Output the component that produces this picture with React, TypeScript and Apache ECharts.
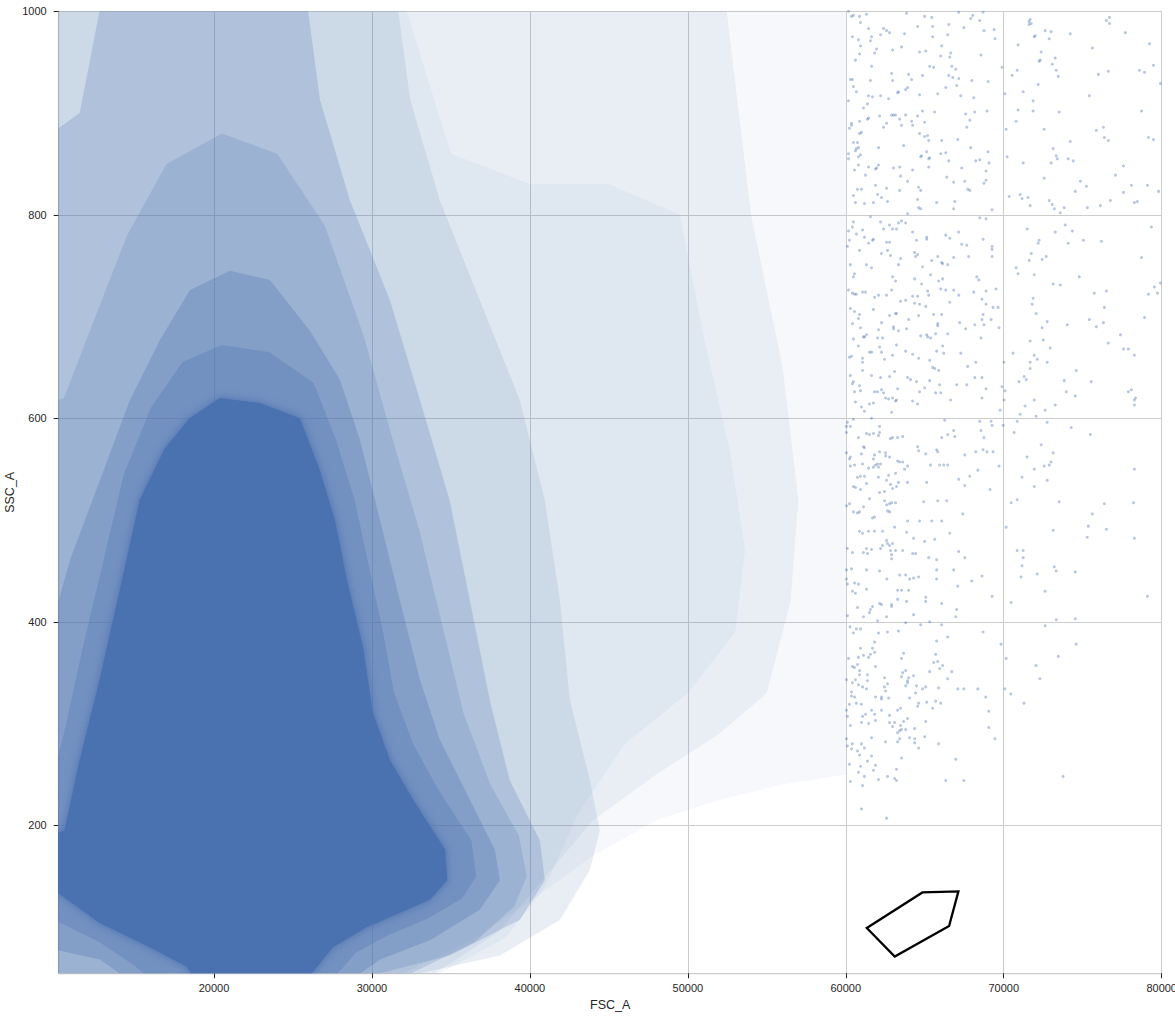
import React, { useEffect, useRef } from "react";
import * as echarts from "echarts";

// ---------- axes ----------
const X_MIN = 10170;
const X_MAX = 80000;
const Y_MIN = 54.5;
const Y_MAX = 1000;
const xTickValues = [20000, 30000, 40000, 50000, 60000, 70000, 80000];
const yTickValues = [200, 400, 600, 800, 1000];
const xAxisName = "FSC_A";
const yAxisName = "SSC_A";

// ---------- density envelopes of the dense population (FSC_A, SSC_A) ----------
// edge vertices run a little past the visible range; the plot clips them
const hazeOuter = [
  [7000, 20], [32000, 20], [32000, 54.5], [36000, 85], [40000, 125], [44000, 170], [48000, 205],
  [52000, 225], [56000, 240], [60000, 250], [60000, 1060], [7000, 1060],
];
const hazeWide = [
  [7000, 20], [34000, 20], [34000, 54.5], [38000, 95], [41000, 150], [44000, 205], [48000, 250],
  [52000, 290], [55000, 330], [56500, 420], [57000, 520], [56000, 650], [54000, 800],
  [52000, 1060], [7000, 1060],
];
const hazeBand = [
  [7000, 20], [34320, 20], [34320, 54.5], [38500, 90], [41000, 140], [43000, 210], [46000, 280],
  [50000, 330], [53000, 390], [53620, 470], [52660, 568], [51000, 680], [49500, 800],
  [45000, 830], [40000, 830], [35000, 860], [31000, 1060], [7000, 1060],
];
const hazeNear = [
  [7000, 20], [33040, 20], [33040, 54.5], [38100, 72], [41900, 107], [43800, 156], [44430, 195],
  [43800, 244], [42530, 323], [41900, 421], [40950, 519], [39360, 618], [36830, 716],
  [34300, 814], [32420, 913], [31150, 1060], [7000, 1060],
];
const haloOuter = [
  [7000, 20], [30510, 20], [30510, 54.5], [34930, 72], [39360, 107], [40950, 146], [40630, 185],
  [38730, 244], [37460, 323], [36200, 421], [34930, 519], [33040, 618], [31140, 716],
  [28610, 814], [26710, 913], [25440, 1060], [13500, 1060], [11500, 900], [7000, 850],
];
const haloMid = [
  [7000, 20], [32500, 20], [32500, 54.5], [36500, 85], [39000, 120], [39800, 150], [39300, 190],
  [37500, 240], [35800, 310], [34400, 400], [33000, 490], [31300, 580], [29500, 680],
  [27000, 790], [24000, 860], [20500, 880], [17000, 850], [14500, 780], [12500, 700],
  [10500, 620], [7000, 600],
];
const haloInner = [
  [7000, 80], [10170, 77], [12780, 68], [15320, 40], [27970, 40], [30510, 68], [33670, 87],
  [36830, 117], [38100, 146], [37780, 176], [36200, 225], [34300, 284], [33040, 343],
  [31770, 421], [30510, 500], [29240, 579], [27970, 638], [26070, 686], [23540, 736],
  [21010, 745], [18480, 726], [16580, 677], [14680, 618], [12780, 539], [10890, 461],
  [10170, 421], [7000, 400],
];
const coreRim = [
  [7000, 110], [10170, 105], [12760, 85], [15000, 62], [16500, 40], [27000, 40], [29000, 75],
  [31000, 92], [33500, 108], [35700, 128], [36600, 150], [36300, 185], [34200, 235],
  [32600, 280], [31400, 330], [30700, 390], [29800, 455], [28900, 520], [27700, 580],
  [26300, 635], [23500, 665], [20500, 672], [18000, 655], [16000, 610], [14300, 545],
  [13000, 460], [11700, 375], [10500, 290], [9500, 230], [7000, 220],
];
const coreCloud = [
  [7000, 150], [10170, 133], [12760, 104], [15930, 80], [18280, 61], [19100, 40], [25440, 40],
  [27530, 80], [29690, 100], [31790, 114], [33690, 127], [34770, 146], [34640, 176],
  [32610, 225], [31150, 264], [30070, 310], [29440, 375], [28420, 441], [27660, 500],
  [26700, 549], [25440, 600], [22900, 615], [20360, 620], [18460, 600], [16870, 570],
  [15300, 520], [14030, 431], [12760, 343], [11490, 264], [10540, 195], [7000, 175],
];
const cloudLayers = [
  hazeOuter, hazeWide, hazeBand, hazeNear, haloOuter, haloMid, haloInner, coreRim, coreCloud,
];
const cloudAlpha = [0.05, 0.07, 0.06, 0.12, 0.22, 0.2, 0.3, 0.3, 1];

// ---------- individual events, 60000 - 68500 ----------
const dotsMid = [
  [60170,1000],[60360,995],[60480,996],[60870,995],[61310,997],[63850,998],[64990,995],[65440,994],[67150,999],[68040,996],[67910,993],[60930,989],[61440,983],[62390,983],[62580,981],[62770,979],[62200,977],[61630,975],[61560,971],[60420,975],[60800,972],[64550,985],[65500,985],[66520,987],[66450,977],[67470,984],[65500,975],[63720,978],[60930,966],[63530,965],[61950,963],[61820,959],[60870,958],[60610,952],[62960,962],[64670,960],[65060,961],[66070,966],[66640,959],[66580,955],[66010,956],[61630,946],[65310,946],[65560,945],[66710,946],[66960,943],[60290,933],[60420,933],[62900,939],[62960,932],[61560,932],[60480,926],[60670,921],[63980,938],[64170,933],[64860,937],[66520,937],[66770,935],[67150,934],[67980,932],[67020,927],[66330,925],[65820,919],[63340,921],[63280,920],[63790,923],[63910,925],[64670,918],[67280,917],[68100,915],[61440,917],[61690,916],[62200,917],[62710,914],[60170,912],[61370,909],[61120,905],[62900,898],[63020,898],[63150,898],[63410,894],[63790,898],[64170,892],[64230,888],[64550,897],[64860,902],[64990,891],[65630,901],[67590,899],[67850,893],[68170,901],[67660,886],[61440,895],[61370,894],[60870,892],[60360,890],[60360,888],[60230,885],[62140,897],[62580,890],[62390,886],[63530,888],[60990,881],[60870,880],[60480,871],[60740,871],[60800,866],[60670,865],[60610,863],[60930,859],[60800,857],[60170,860],[60170,855],[62070,866],[63660,868],[64670,880],[64990,877],[65180,878],[65250,873],[66070,873],[67090,874],[67910,866],[65120,862],[65310,856],[65250,855],[64740,857],[64800,858],[66010,860],[66330,861],[66520,853],[68230,853],[60800,849],[60550,844],[61440,847],[61950,846],[62070,849],[61880,845],[63020,846],[63410,847],[61250,839],[63470,838],[63910,833],[64230,844],[65250,847],[66390,837],[66830,832],[67340,846],[67530,833],[61880,829],[62580,826],[63410,824],[64610,827],[64740,824],[60740,825],[60990,825],[60480,819],[62010,820],[62260,817],[60610,812],[61180,811],[61750,812],[62640,813],[64550,815],[64610,807],[64740,806],[65750,812],[66900,813],[66830,806],[63910,801],[67720,825],[67850,824],
  [61560,798],[60480,793],[60170,784],[60420,788],[60670,781],[61060,785],[61180,778],[61750,776],[61690,775],[61440,772],[62200,793],[62390,786],[62770,790],[62960,786],[63210,786],[63530,794],[63340,792],[63790,792],[64230,783],[62580,773],[62770,773],[64480,775],[65120,778],[65120,776],[66330,780],[66580,777],[67150,783],[67340,771],[67660,770],[60870,765],[60230,775],[60100,769],[62260,762],[62640,765],[62830,760],[63470,757],[63340,751],[64360,763],[64420,759],[64550,761],[61310,751],[61630,748],[60290,751],[64860,749],[65440,755],[65820,759],[66130,752],[66070,753],[66450,751],[66830,758],[67780,759],[60550,742],[60480,739],[63150,735],[62960,739],[64360,737],[64800,732],[65370,741],[65880,735],[66130,737],[68290,739],[68420,736],[60170,726],[60420,723],[60550,722],[60670,722],[61060,724],[61250,724],[61820,719],[62070,721],[62580,721],[62900,726],[63470,715],[63790,716],[64230,720],[64550,720],[64360,713],[64670,712],[65060,710],[65180,725],[65250,721],[66010,727],[66330,726],[66830,726],[67150,721],[68100,724],[66580,714],[60290,708],[60550,705],[60870,702],[61750,707],[62770,701],[63150,703],[63210,703],[63980,697],[64610,701],[65560,702],[66070,702],[60420,693],[60800,698],[60930,689],[62260,694],[63020,690],[63020,688],[62070,687],[63850,688],[65820,693],[65820,691],[67210,694],[67590,688],[68170,692],
  [60480,678],[61120,680],[61180,680],[61310,682],[62010,679],[62330,679],[63340,686],[64740,681],[65120,682],[65180,680],[65370,679],[65690,683],[66450,683],[60230,660],[60360,661],[61060,659],[61060,655],[60800,671],[61500,665],[61630,665],[62140,670],[62260,665],[62450,658],[62960,662],[63210,672],[63790,666],[64230,663],[64610,659],[65310,657],[65500,650],[65630,649],[65880,647],[65750,666],[66200,664],[66130,671],[67280,664],[67720,651],[68230,655],[61060,647],[61630,642],[62200,640],[62770,641],[63090,646],[63910,640],[64100,638],[64480,636],[65310,637],[65940,633],[67020,633],[67660,633],[68170,640],[60290,642],[60480,636],[60420,634],[60870,632],[60550,626],[60930,627],[60610,616],[61500,614],[61750,615],[60990,611],[61180,607],[61820,626],[62010,626],[62260,628],[62390,625],[62520,620],[62710,619],[62960,620],[63150,617],[63210,618],[63280,629],[62900,606],[64230,617],[64550,614],[64670,626],[64990,630],[65690,625],[66010,625],[66640,618],[60480,599],[60100,596],[61630,600],[60040,592],[60290,592],[60040,586],[60800,581],[61120,572],[61180,571],[61310,585],[61500,584],[62140,592],[62140,586],[61750,585],[62070,583],[62830,580],[62960,581],[63280,581],[63600,582],[64550,572],[64610,568],[65060,565],[65750,569],[65820,567],[66070,581],[66450,584],[66260,598],[66830,588],[66900,582],[68230,567],[67530,564],[60040,566],[60290,562],[60230,560],[60290,553],[60550,554],[61060,555],[60990,565],[61750,560],[61820,564],[62140,567],[62520,566],[62520,563],[62770,562],[63280,558],[63410,557],[63600,557],[63910,553],[63720,550],[63150,546],[62710,544],[62010,555],[62070,552],[62200,555],[61880,554],[61750,552],[61440,551],[60740,542],[60930,543],[61180,543],[61310,536],[60930,530],[60480,533],[60610,532],[62070,542],[62580,539],[62830,535],[62960,531],[63210,533],[63340,537],[62450,528],[62140,527],[63910,537],[65120,537],[65370,554],[65940,554],[66200,554],[66450,554],[67150,540],[67530,534],[67850,543],[68360,549],[60040,514],[60230,516],[60480,508],[60740,507],[60870,508],[61120,513],[61500,521],[61690,502],[61820,503],[62450,519],[62580,515],[62770,516],[62900,517],[62640,509],[62770,508],[63150,517],[64930,518],[65820,519],[66390,519],[67400,506],[63090,493],[63910,499],[64670,499],[65440,499],[66070,499],[60870,489],[61060,487],[61440,489],[61820,489],[62330,489],[62580,480],[62640,477],[62770,475],[62960,477],[63850,488],[64290,482],[64990,479],[65630,481],[60100,472],[60420,468],[61120,468],[61310,472],[61630,471],[61370,467],[62200,472],[62330,475],[62830,470],[62900,466],[62900,462],[63150,470],[63600,470],[64230,467],[64420,467],[65250,463],[65750,461],[66580,487],[67530,463],[67150,469],[60040,451],[60360,452],[61310,451],[62140,450],[62600,442],[63410,446],[63790,446],[64040,442],[64290,443],[64610,444],[65750,451],[65750,442],[66830,451],[67980,440],[67090,435],[60040,442],[60100,437],[60550,438],[60800,437],[60420,430],[60610,428],[61310,432],[63280,431],[63530,431],[63980,431],[62140,418],[62260,417],[61690,415],[61560,412],[62900,417],[62900,415],[63280,422],[63850,420],[65060,424],[65060,420],[66070,418],[67020,412],[60740,414],[60100,406],[61120,405],[61500,409],[62010,401],[62580,405],[64290,407],[66960,405],[60270,395],[60670,393],[60930,393],[60480,389],[62070,389],[62640,390],[63340,391],[63790,399],[64740,397],[65310,400],[66070,397],[66450,385],[65750,381],[61820,380],[60930,374],[61690,374],[61820,370],[61560,368],[61440,365],[60800,365],[61120,367],[63660,369],[63530,364],[65690,368],[60170,364],
  [60420,356],[60550,355],[60740,358],[60870,352],[60870,348],[61370,348],[61370,342],[60610,343],[60420,340],[60040,343],[60800,338],[61060,336],[61310,334],[60360,331],[60360,327],[60550,326],[60230,319],[60670,320],[60990,319],[61880,356],[62450,345],[62640,339],[62450,336],[62260,326],[62260,324],[61880,326],[62710,325],[62520,332],[63530,346],[63600,350],[63790,352],[63980,345],[63910,342],[63910,340],[63790,337],[64290,347],[64480,337],[64420,330],[64040,325],[64860,334],[65060,336],[65310,351],[65560,360],[65820,361],[65940,354],[66130,357],[66710,351],[66450,344],[65880,335],[67090,334],[67470,334],[68360,334],[68860,326],[69050,312],[69050,296],[69440,285],[65120,321],[64610,320],[64550,317],[65690,322],[66010,320],[65500,315],[61630,313],[61820,309],[62260,313],[63280,313],[63470,315],[62770,308],[63090,301],[62770,301],[62960,297],[63660,302],[63910,305],[63280,291],[63410,293],[63530,294],[63790,294],[63470,298],[64360,295],[65060,302],[60040,313],[60100,307],[60290,298],[60990,301],[61060,307],[61250,309],[61440,300],[61880,303],[61630,286],[62520,282],[63280,282],[63410,285],[64040,286],[64360,285],[64360,281],[64990,287],[64610,276],[65880,280],[60420,280],[60360,275],[60740,273],[60870,269],[60990,280],[61180,276],[61630,268],[61370,263],[61880,259],[60230,260],[60930,258],[61750,254],[60800,252],[61180,248],[60290,243],[61060,239],[62070,245],[62640,248],[63090,246],[63210,244],[63210,255],[63530,266],[66960,265],[66330,244],[67470,244],[60990,216],[62580,207],[60040,285],[60100,278],
];

// ---------- individual events, 68500 - 80000 ----------
const dotsFar = [
  [68690,999],[68480,991],[68750,981],[69390,982],[69450,973],[68560,957],[69890,945],[69010,931],[68940,902],[69010,862],[68480,854],[69070,851],[68880,843],[68880,834],[68750,831],[69260,805],
  [71670,992],[71610,990],[71740,988],[71610,987],[76690,994],[76500,991],[76690,988],[72620,981],[73000,980],[71990,976],[71930,975],[72880,973],[74210,978],[77700,979],[70910,967],[79230,968],[75610,964],[72370,960],[73260,954],[72310,952],[72240,951],[73070,948],[79480,947],[70850,942],[73320,942],[70530,937],[73450,936],[76620,941],[75990,938],[78590,942],[78910,940],[72180,928],[79920,929],[71230,921],[70080,919],[71860,912],[75420,917],[70910,903],[71860,902],[73510,901],[78720,902],[70780,892],[70150,884],[72560,884],[75860,883],[76310,886],[76370,876],[76620,873],[79160,876],[79480,874],[74210,872],[73130,865],[73320,858],[73390,855],[74080,855],[74400,853],[73000,851],[71230,851],[70210,857],[77580,848],[77070,839],[72560,836],[74850,833],[75230,828],[78080,829],[79100,829],[74530,823],[77580,822],[79800,823],[70340,818],[71040,820],[71160,816],[71540,817],[71670,809],[72880,814],[73070,810],[73200,806],[73580,802],[73830,807],[75290,807],[76120,809],[76750,814],[78270,812],[78460,813],
  [68480,797],[68880,796],[68690,776],[69260,769],[69260,766],[69260,759],[71480,786],[73890,790],[73260,783],[74340,784],[79350,788],[72240,775],[72180,772],[74080,772],[75040,775],[76180,774],[71740,762],[71610,755],[72430,756],[72690,759],[78720,758],[70780,748],[70910,742],[71930,741],[74780,739],[73130,732],[73580,731],[68880,725],[69510,727],[68620,717],[68880,712],[69320,709],[69640,709],[71860,718],[71800,712],[75730,723],[76500,725],[79540,729],[79920,733],[79730,723],[79160,722],[76370,709],[72050,703],[68690,702],[68620,697],[69200,697],[68750,692],[69700,689],[72750,695],[74020,692],[75420,697],[76310,694],[75860,690],[78910,699],[72430,689],
  [68560,679],[71670,676],[72500,677],[77390,682],[76620,674],[77580,668],[77890,668],[78270,662],[70590,664],[72940,669],[71930,662],[72120,658],[71670,655],[72750,655],[70020,655],[71670,649],[74590,647],[68620,640],[71290,641],[71420,638],[70970,636],[73830,637],[75540,636],[68880,629],[69890,631],[70080,627],[73960,626],[74530,622],[77890,626],[78080,628],[78340,620],[78270,618],[78270,613],[68620,620],[70020,618],[71930,618],[73260,613],[71350,612],[69770,608],[72620,608],[71040,604],[72050,602],[68480,597],[69200,597],[69260,593],[69960,593],[70850,597],[72750,596],[74270,591],[75480,584],[68560,588],[68750,581],[70660,586],[72370,574],[68690,569],[68940,567],[69320,567],[73130,566],[71480,562],[73000,557],[72880,554],[72560,553],[71930,550],[69700,553],[78270,550],[71160,542],[72750,539],[71930,533],[69130,530],[70470,517],[70850,520],[73510,518],[76370,516],[78210,517],[75610,506],[70150,493],[73130,490],[75350,494],[76500,491],[75290,483],[78270,482],[70850,470],[71230,470],[71230,463],[71160,455],[73200,454],[73320,450],[74530,449],[72120,447],[71100,444],[68620,445],[72620,430],[69260,425],[79100,425],[70470,419],[73320,402],[74530,403],[72620,396],[68690,390],[69830,378],[74590,378],[73450,366],[70150,364],
  [70070,334],[70450,329],[71280,320],[72040,357],[72290,344],[73750,248],
];

// ---------- gate ----------
const gateVertices = [
  [61330, 99], [63100, 71], [66540, 101], [67130, 135], [64850, 134],
];

const TEXT = "#262626";
const GRID = "#cccccc";
const FONT = "'Liberation Sans', Arial, Helvetica, sans-serif";
const blue = (a: number) => `rgba(76,114,176,${a})`;

function buildOption() {
  const axisCommon = {
    type: "value",
    z: 0,
    nameLocation: "middle",
    nameMoveOverlap: false,
    nameTextStyle: { fontSize: 12.5, color: TEXT, fontFamily: FONT },
    axisLine: { show: true, onZero: false, lineStyle: { color: GRID, width: 1.25 } },
    splitLine: { show: true, lineStyle: { color: GRID, width: 1 } },
  };
  return {
    animation: false,
    backgroundColor: "#ffffff",
    grid: {
      left: 58.7,
      right: 13.3,
      top: 11.3,
      bottom: 42.7,
      containLabel: false,
      outerBoundsMode: "none",
    },
    xAxis: {
      ...axisCommon,
      min: X_MIN,
      max: X_MAX,
      name: xAxisName,
      nameGap: 25,
      axisTick: { show: true, length: 5, customValues: xTickValues, lineStyle: { color: TEXT, width: 1 } },
      axisLabel: {
        customValues: xTickValues,
        fontSize: 11,
        color: TEXT,
        fontFamily: FONT,
        margin: 9,
        formatter: (v: number) => String(v),
      },
    },
    yAxis: {
      ...axisCommon,
      min: Y_MIN,
      max: Y_MAX,
      name: yAxisName,
      nameGap: 42,
      nameRotate: 90,
      axisTick: { show: true, length: 5, customValues: yTickValues, lineStyle: { color: TEXT, width: 1 } },
      axisLabel: {
        customValues: yTickValues,
        fontSize: 11,
        color: TEXT,
        fontFamily: FONT,
        margin: 12,
        formatter: (v: number) => String(v),
      },
    },
    series: [
      {
        type: "custom",
        coordinateSystem: "cartesian2d",
        silent: true,
        z: 5,
        clip: true,
        data: cloudLayers.map((_, i) => [20000, 200, i]),
        encode: { x: 0, y: 1 },
        renderItem: (_params: any, api: any) => {
          const i = api.value(2);
          const pts = cloudLayers[i].map((p) => api.coord(p));
          const a = cloudAlpha[i];
          const style: any = { fill: blue(a), stroke: "none" };
          if (a >= 1) {
            style.shadowBlur = 8;
            style.shadowColor = "#4C72B0";
            style.shadowOffsetX = 0;
            style.shadowOffsetY = 0;
          }
          return { type: "polygon", shape: { points: pts }, style };
        },
      },
      {
        type: "scatter",
        silent: true,
        z: 6,
        symbol: "circle",
        symbolSize: 3,
        itemStyle: { color: "#4C72B0", opacity: 0.4 },
        data: [...dotsMid, ...dotsFar],
      },
      {
        type: "custom",
        coordinateSystem: "cartesian2d",
        silent: true,
        z: 7,
        data: [[gateVertices[0][0], gateVertices[0][1]]],
        encode: { x: 0, y: 1 },
        renderItem: (_params: any, api: any) => {
          const pts = gateVertices.map((p) => api.coord(p));
          return {
            type: "polygon",
            shape: { points: pts },
            style: { fill: "none", stroke: "#000000", lineWidth: 2.3, lineJoin: "miter" },
          };
        },
      },
    ],
  };
}

export default function App() {
  const ref = useRef<HTMLDivElement>(null);
  useEffect(() => {
    document.body.style.margin = "0";
    if (!ref.current) return;
    const chart = echarts.init(ref.current, null, { renderer: "svg" });
    chart.setOption(buildOption() as any);
    return () => chart.dispose();
  }, []);
  return <div ref={ref} style={{ width: 1175, height: 1016 }} />;
}
